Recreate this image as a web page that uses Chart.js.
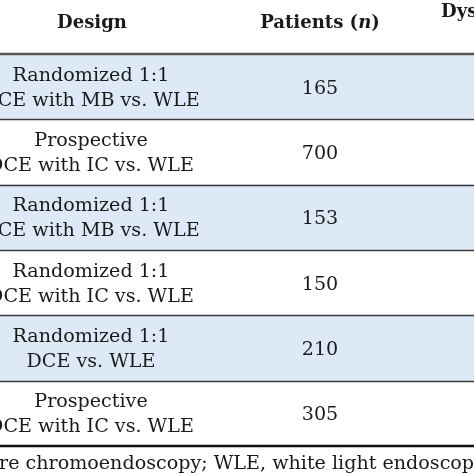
<!DOCTYPE html>
<html><head><meta charset="utf-8">
<script src="https://cdn.jsdelivr.net/npm/chart.js@4"></script>
<style>html,body{margin:0;padding:0;background:#fff}#wrap{width:474px;height:474px}</style>
</head><body><div id="wrap"><canvas id="tbl"></canvas></div>
<script>
const designLine1 = ["Randomized 1:1", "Prospective", "Randomized 1:1", "Randomized 1:1", "Randomized 1:1", "Prospective"];
const designLine2 = ["DCE with MB vs. WLE", "DCE with IC vs. WLE", "DCE with MB vs. WLE", "DCE with IC vs. WLE", "DCE vs. WLE", "DCE with IC vs. WLE"];
const patients = [165, 700, 153, 150, 210, 305];
const shaded = [1, 0, 1, 0, 1, 0];
const rows = patients.map((_, i) => "r" + i);
const footnote = "re chromoendoscopy; WLE, white light endoscopy; MB,";

const serif = "\"DejaVu Serif\", \"Liberation Serif\", serif";

function fitSize(ctx, text, target, weight) {
  ctx.font = weight + " 20px " + serif;
  return 20 * target / ctx.measureText(text).width;
}

const tablePlugin = {
  id: "tableText",
  afterDatasetsDraw(chart) {
    const ctx = chart.ctx;
    const yScale = chart.scales.y;
    const area = chart.chartArea;
    const step = (area.bottom - area.top) / rows.length;
    ctx.save();
    ctx.fillStyle = "#1a1a1a";
    ctx.textBaseline = "middle";
    const hs = fitSize(ctx, "Design", 70, "bold");
    ctx.font = "bold " + hs + "px " + serif;
    ctx.textAlign = "center";
    ctx.fillText("Design", 92, 23);
    // Patients (n), centred at 320
    const a = ctx.measureText("Patients (").width;
    ctx.font = "bold italic " + hs + "px " + serif;
    const b = ctx.measureText("n").width;
    ctx.font = "bold " + hs + "px " + serif;
    const c = ctx.measureText(")").width;
    let x0 = 320 - (a + b + c) / 2;
    ctx.textAlign = "left";
    ctx.fillText("Patients (", x0, 23);
    ctx.font = "bold italic " + hs + "px " + serif;
    ctx.fillText("n", x0 + a, 23);
    ctx.font = "bold " + hs + "px " + serif;
    ctx.fillText(")", x0 + a + b, 23);
    ctx.fillText("Dys", 441, 12);
    const bs = fitSize(ctx, "Randomized 1:1", 157, "");
    ctx.font = bs + "px " + serif;
    ctx.textAlign = "center";
    rows.forEach((r, i) => {
      const y = yScale.getPixelForValue(i);
      ctx.fillText(designLine1[i], 91, y - 11);
      ctx.fillText(designLine2[i], 91, y + 14);
      ctx.fillText(String(patients[i]), 320, y + 2);
    });
    ctx.strokeStyle = "#3a3a3a";
    ctx.lineWidth = 1.3;
    for (let i = 1; i < rows.length; i++) {
      const y = Math.round(area.top + step * i) + 0.5;
      ctx.beginPath(); ctx.moveTo(0, y); ctx.lineTo(474, y); ctx.stroke();
    }
    ctx.strokeStyle = "#555";
    ctx.lineWidth = 2.5;
    ctx.beginPath(); ctx.moveTo(0, area.top); ctx.lineTo(474, area.top); ctx.stroke();
    ctx.strokeStyle = "#111";
    ctx.beginPath(); ctx.moveTo(0, area.bottom); ctx.lineTo(474, area.bottom); ctx.stroke();
    ctx.textAlign = "left";
    ctx.fillText(footnote, -1, 464);
    ctx.restore();
  }
};

new Chart(document.getElementById("tbl"), {
  type: "bar",
  data: {
    labels: rows,
    datasets: [{
      data: shaded.map((s) => (s ? [-1, 2] : null)),
      backgroundColor: "#dde9f7",
      borderWidth: 0,
      barPercentage: 1,
      categoryPercentage: 1,
      clip: false
    }]
  },
  options: {
    indexAxis: "y",
    responsive: true,
    maintainAspectRatio: false,
    animation: false,
    layout: { padding: { top: 54, bottom: 28, left: 0, right: 0 } },
    plugins: { legend: { display: false }, tooltip: { enabled: false } },
    scales: {
      x: { display: false, min: 0, max: 1 },
      y: { display: false }
    }
  },
  plugins: [tablePlugin]
});
</script>
</body></html>
